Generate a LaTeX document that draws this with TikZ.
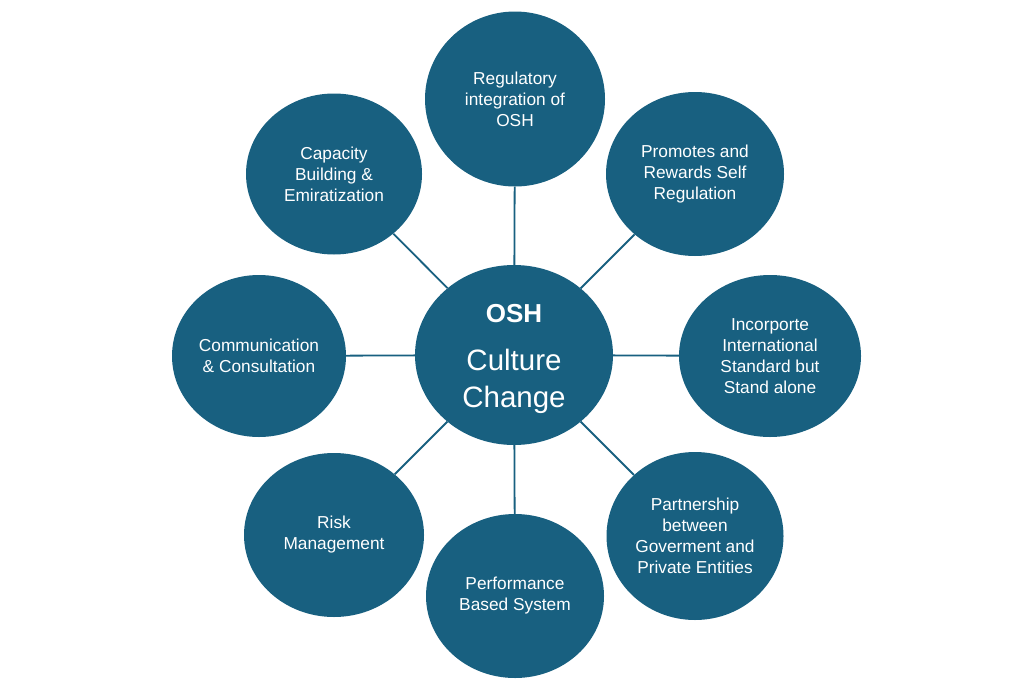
\documentclass[tikz,border=0pt]{standalone}
\usepackage{fontspec}
\setmainfont{Liberation Sans}
\usetikzlibrary{shapes.geometric}
\definecolor{oshblue}{RGB}{24,96,128}
\tikzset{
  sat/.style={ellipse, fill=oshblue, draw=none, inner sep=0pt,
    minimum width=178pt, minimum height=164pt, text=white, align=center,
    font=\fontsize{17.3}{21}\selectfont},
  hub/.style={ellipse, fill=oshblue, draw=none, inner sep=0pt,
    minimum width=198pt, minimum height=180pt},
  hubtext/.style={text=white, anchor=base, inner sep=0pt},
  link/.style={draw=oshblue, line width=1.8pt}
}
\begin{document}
\begin{tikzpicture}[x=1pt,y=-1pt]
\useasboundingbox (0,0) rectangle (1024,696);
\node[hub] (c) at (514,355) {};
\node[hubtext, font=\fontsize{26}{30}\selectfont\bfseries] (osh) at (514,322) {OSH};
\node[hubtext, font=\fontsize{29.5}{37}\selectfont] (cul) at (514,370) {Culture};
\node[hubtext, font=\fontsize{29.5}{37}\selectfont] (chg) at (514,407) {Change};

\node[sat, minimum width=180pt, minimum height=175pt] (reg) at (515,99) {Regulatory\\integration of\\OSH};
\node[sat] (pro) at (695,174) {Promotes and\\Rewards Self\\Regulation};
\node[sat, minimum width=182pt, minimum height=162pt] (inc) at (770,356) {Incorporte\\International\\Standard but\\Stand alone};
\node[sat, minimum width=177pt, minimum height=168pt] (par) at (695,536) {Partnership\\between\\Goverment and\\Private Entities};
\node[sat] (per) at (515,596) {Performance\\Based System};
\node[sat, minimum width=180pt] (risk) at (334,535) {Risk\\Management};
\node[sat, minimum width=174pt, minimum height=162pt] (com) at (259,356) {Communication\\\& Consultation};
\node[sat, minimum width=176pt, minimum height=161pt] (cap) at (334,174) {Capacity\\Building \&\\Emiratization};

\foreach \s in {reg,pro,inc,par,per,risk,com,cap}
  \draw[link] (c) -- (\s);
\end{tikzpicture}
\end{document}
